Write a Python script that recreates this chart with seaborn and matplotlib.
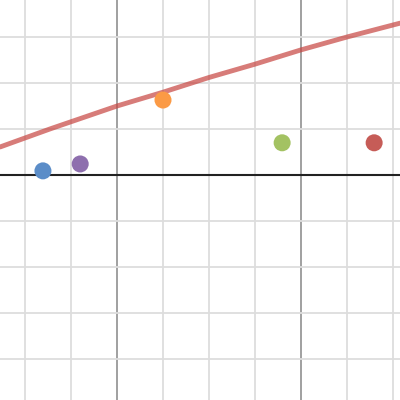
import numpy as np
import pandas as pd
import matplotlib
matplotlib.use('Agg')
import matplotlib.pyplot as plt
import seaborn as sns

# pontos
px = [-1.61, -0.80, 1.0, 3.59, 5.59]
py = [0.09, 0.24, 1.63, 0.70, 0.70]
cores = ['#5b8dc8', '#8e6fae', '#fb9a45', '#a3c262', '#c65c57']

# curva
cx = [-2.54, -1.46, 0, 1, 2, 3, 4, 5, 6.15]
cy = [0.61, 1.0, 1.50, 1.80, 2.12, 2.41, 2.72, 3.0, 3.30]

sns.set_style('white')
fig = plt.figure(figsize=(4, 4), dpi=100)
ax = fig.add_axes([0, 0, 1, 1])
x0, x1 = -117 / 46, 283 / 46
y0, y1 = -225 / 46, 175 / 46

for v in range(-2, 7):
    ax.axvline(v, color='#999999' if v in (0, 4) else '#dddddd', lw=1.3, zorder=0)
for v in range(-4, 4):
    ax.axhline(v, color='#222222' if v == 0 else '#dddddd', lw=1.5 if v == 0 else 1.3, zorder=0)

df_curva = pd.DataFrame({'x': cx, 'y': cy})
sns.lineplot(data=df_curva, x='x', y='y', ax=ax, color='#c74440', alpha=0.7, lw=3.5)

df_pontos = pd.DataFrame({'x': px, 'y': py, 'c': cores})
sns.scatterplot(data=df_pontos, x='x', y='y', hue='c', palette=dict(zip(cores, cores)),
                s=150, edgecolor='none', legend=False, ax=ax, zorder=5)

ax.set_xlim(x0, x1)
ax.set_ylim(y0, y1)
ax.set_axis_off()
fig.savefig('out.png', dpi=100)
